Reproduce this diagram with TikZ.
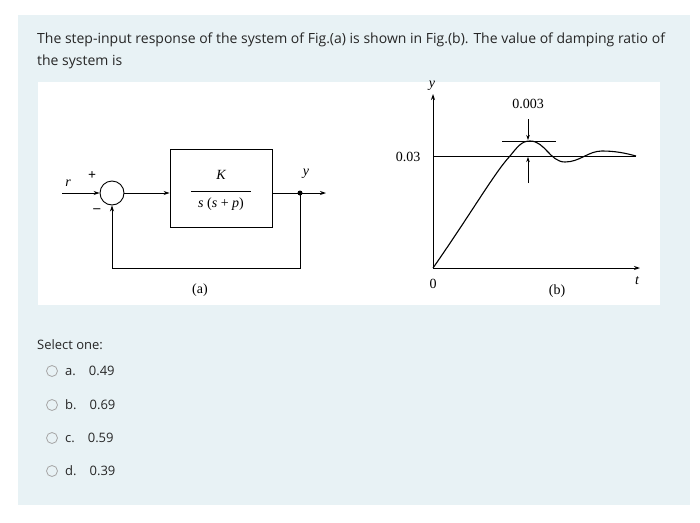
\documentclass[tikz,border=0pt]{standalone}
\usepackage{fontspec}
\setmainfont{Open Sans}
\newfontfamily\tms{Liberation Serif}
\usetikzlibrary{arrows.meta}
\definecolor{panel}{HTML}{E8F2F5}
\tikzset{sig/.style={line width=0.9pt,-{Stealth[length=6pt,width=4pt]}},
 ln/.style={line width=0.9pt},
 ser/.style={font=\tms\fontsize{14}{16}\selectfont,inner sep=1pt},
 opt/.style={font=\fontsize{13}{15}\selectfont,anchor=west,inner sep=0pt,text=black!85},
 radio/.style={circle,draw=gray!70,line width=0.8pt,minimum size=11pt,inner sep=0pt}}
\begin{document}
\begin{tikzpicture}[x=1pt,y=-1pt]
\useasboundingbox (0,0) rectangle (700,522);
\fill[white] (0,0) rectangle (700,522);
\fill[panel] (18,15) rectangle (690,505);
\fill[white] (38,82) rectangle (660,305);
\node[opt,font=\fontsize{14}{17}\selectfont] (q1) at (37,40) {The step-input response of the system of Fig.(a) is shown in Fig.(b). The value of damping ratio of};
\node[opt,font=\fontsize{14}{17}\selectfont] (q2) at (37,62) {the system is};
% block diagram
\coordinate (r0) at (62,193);
\node[circle,draw,line width=0.9pt,minimum size=24pt,inner sep=0pt] (sum) at (112,193) {};
\node[draw,line width=0.9pt,minimum width=102pt,minimum height=78pt] (G) at (221,188) {};
\node[ser,align=center] (frac) at (221,190) {\itshape K\\[-3pt]\rule{60pt}{0.6pt}\\[-1pt]{\itshape s} ({\itshape s} + {\itshape p})};
\draw[sig] (r0) -- (sum);
\draw[sig] (sum) -- (sum -| G.west);
\coordinate (br) at (300,193);
\coordinate (out) at (326,193);
\draw[ln] (G.east |- br) -- (br);
\draw[sig] (br) -- (out);
\fill (br) circle (2.5pt);
\coordinate (fb1) at (300,268);
\coordinate (fb2) at (112,268);
\draw[sig] (br) -- (fb1) -- (fb2) -- (sum.south);
\node[ser] (rl) at (68,183) {\itshape r};
\node[ser] (pl) at (92,176) {\textbf{+}};
\node[ser] (ml) at (97,211) {\textbf{–}};
\node[ser] (yl) at (306,174) {\itshape y};
\node[ser] (al) at (200,290) {(a)};
% plot
\coordinate (O) at (433,268);
\coordinate (ytop) at (433,94);
\coordinate (tend) at (640,268);
\draw[sig] (O) -- (ytop);
\draw[sig] (O) -- (tend);
\node[ser] (yax) at (432,86) {\itshape y};
\node[ser] (tax) at (637,281) {\itshape t};
\node[ser] (zero) at (433,284) {0};
\node[ser] (v03) at (408,157) {0.03};
\node[ser] (v003) at (528,104) {0.003};
\node[ser] (bl) at (557,291) {(b)};
\coordinate (ss1) at (433,156);
\coordinate (ss2) at (636,156);
\draw[ln,line width=0.7pt] (ss1) -- (ss2);
\coordinate (pk1) at (502,141);
\coordinate (pk2) at (556,141);
\draw[ln,line width=0.7pt] (pk1) -- (pk2);
\draw[ln,line width=1.1pt] (O) .. controls (470,215) and (495,172) .. (510,156)
  .. controls (518,146) and (522,141) .. (530,141)
  .. controls (545,141) and (550,162) .. (565,162)
  .. controls (580,162) and (588,151) .. (602,151)
  .. controls (615,151) and (625,153) .. (636,156);
\coordinate (a1) at (528,119);
\coordinate (a2) at (528,183);
\draw[line width=0.6pt,-{Stealth[length=5pt,width=3.5pt]}] (a1) -- (528,140);
\draw[line width=0.6pt,-{Stealth[length=5pt,width=3.5pt]}] (a2) -- (528,157);
% options
\node[opt] (sel) at (37,345) {Select one:};
\foreach \y/\l/\v in {371/a./0.49,405/b./0.69,438/c./0.59,471/d./0.39}{
  \node[radio] (r\l) at (52,\y) {};
  \node[opt] (t\l) at (65,\y) {\l\quad\v};
}
\end{tikzpicture}
\end{document}
